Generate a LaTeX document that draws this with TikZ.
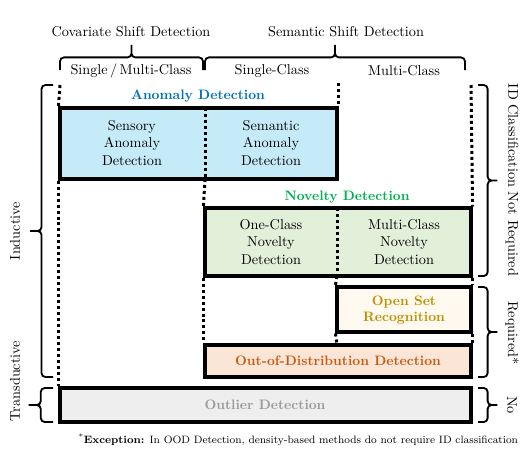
\documentclass[tikz,border=0pt,11pt]{standalone}
\usetikzlibrary{calc, fit}

\definecolor{adblue}{HTML}{0070C0}
\definecolor{adfill}{HTML}{C5EBF9}
\definecolor{ndgreen}{HTML}{00B050}
\definecolor{ndfill}{HTML}{E2EFD9}
\definecolor{osrgold}{HTML}{BF9000}
\definecolor{osrfill}{HTML}{FFF9F0}
\definecolor{oodorange}{HTML}{C55A11}
\definecolor{oodfill}{HTML}{FBE5D6}
\definecolor{odgray}{HTML}{999999}
\definecolor{odfill}{HTML}{EEEEEE}

\begin{document}
\begin{tikzpicture}[x=0.027cm, y=-0.027cm,
    task box/.style={draw, line width=2.4pt, inner sep=0pt},
    guide/.style={line width=2.3pt, dash pattern=on 2.3pt off 2.3pt},
    curly/.style={line width=1.4pt, rounded corners=3pt, to path={
        (\tikztostart) -- ($(\tikztostart)!#1!90:(\tikztotarget)$)
        -- ($ ($(\tikztostart)!.5!(\tikztotarget)$)!#1!90:(\tikztotarget) $)
        -- ($ ($(\tikztostart)!.5!(\tikztotarget)$)!2*#1!90:(\tikztotarget) $)
        (\tikztotarget) -- ($(\tikztotarget)!#1!-90:(\tikztostart)$)
        -- ($ ($(\tikztostart)!.5!(\tikztotarget)$)!#1!90:(\tikztotarget) $)
        -- ($ ($(\tikztostart)!.5!(\tikztotarget)$)!2*#1!90:(\tikztotarget) $)}},
    task text/.style={align=center},
    task head/.style={font=\fontsize{10.5}{12.5}\selectfont\bfseries}]
    \useasboundingbox (0,0) rectangle (530,453);

    % boxes
    \node[task box, fill=adfill, fit={(60,108) (337,179)}] (anomaly) {};
    \node[task box, fill=ndfill, fit={(205,208) (471,276)}] (novelty) {};
    \node[task box, fill=osrfill, fit={(337,287) (471,332)}] (openset) {};
    \node[task box, fill=oodfill, fit={(205,345) (471,377)}] (ood) {};
    \node[task box, fill=odfill, fit={(60,388) (471,422)}] (outlier) {};

    % column guides
    \draw[guide] (60,85) -- (anomaly.north west);
    \draw[guide] (anomaly.south west) -- (outlier.north west);
    \draw[guide] (205,108) -- (205,179);
    \draw[guide] (205,179) -- (novelty.north west);
    \draw[guide] (novelty.south west) -- (ood.north west);
    \draw[guide] (anomaly.north east) ++(0,-23) -- (anomaly.north east);
    \draw[guide] (337,208) -- (337,276);
    \draw[guide] (337,276) -- (openset.north west);
    \draw[guide] (openset.south west) -- (337,345);
    \draw[guide] (471,85) -- (novelty.north east);
    \draw[guide] (novelty.south east) -- (openset.north east);
    \draw[guide] (openset.south east) -- (ood.north east);

    % headers
    \node (covariate) at (131,32) {Covariate Shift Detection};
    \node (semantic) at (346,32) {Semantic Shift Detection};
    \draw[curly=0.34cm] (60,70) to (203,70);
    \draw[curly=0.34cm] (205,70) to (465,70);
    \node (colone) at (131,71) {Single\,/\,Multi-Class};
    \node (coltwo) at (272,71) {Single-Class};
    \node (colthree) at (404,71) {Multi-Class};

    % labels
    \node[task head, text=adblue] (adlabel) at (198,96) {Anomaly Detection};
    \node[task head, text=ndgreen] (ndlabel) at (347,197) {Novelty Detection};
    \node[task text] (sensory) at (132,143) {Sensory\\Anomaly\\Detection};
    \node[task text] (semanticad) at (271,143) {Semantic\\Anomaly\\Detection};
    \node[task text] (oneclass) at (271,242) {One-Class\\Novelty\\Detection};
    \node[task text] (multiclass) at (404,242) {Multi-Class\\Novelty\\Detection};
    \node[task head, align=center, text=osrgold] (osr) at (404,310) {Open Set\\Recognition};
    \node[task head, text=oodorange] (oodtext) at (338,361) {Out-of-Distribution Detection};
    \node[task head, text=odgray] (odtext) at (265,405) {Outlier Detection};

    % side braces
    \draw[curly=0.31cm] (53,377) to (53,85);
    \draw[curly=0.33cm] (53,422) to (53,388);
    \node[rotate=90] (inductive) at (15,231) {Inductive};
    \node[rotate=90] (transductive) at (15,381) {Transductive};
    \draw[curly=0.26cm] (478,85) to (478,276);
    \draw[curly=0.26cm] (478,287) to (478,377);
    \draw[curly=0.26cm] (478,388) to (478,422);
    \node[rotate=-90] (notreq) at (512,180) {ID Classification Not Required};
    \node[rotate=-90] (req) at (512,333) {Required*};
    \node[rotate=-90] (no) at (512,405) {No};

    % footnote
    \node[anchor=east, font=\fontsize{8.2}{10}\selectfont] (exception) at (523,440)
        {\textsuperscript{*}\textbf{Exception:} In OOD Detection, density-based methods do not require ID classification};
\end{tikzpicture}
\end{document}
